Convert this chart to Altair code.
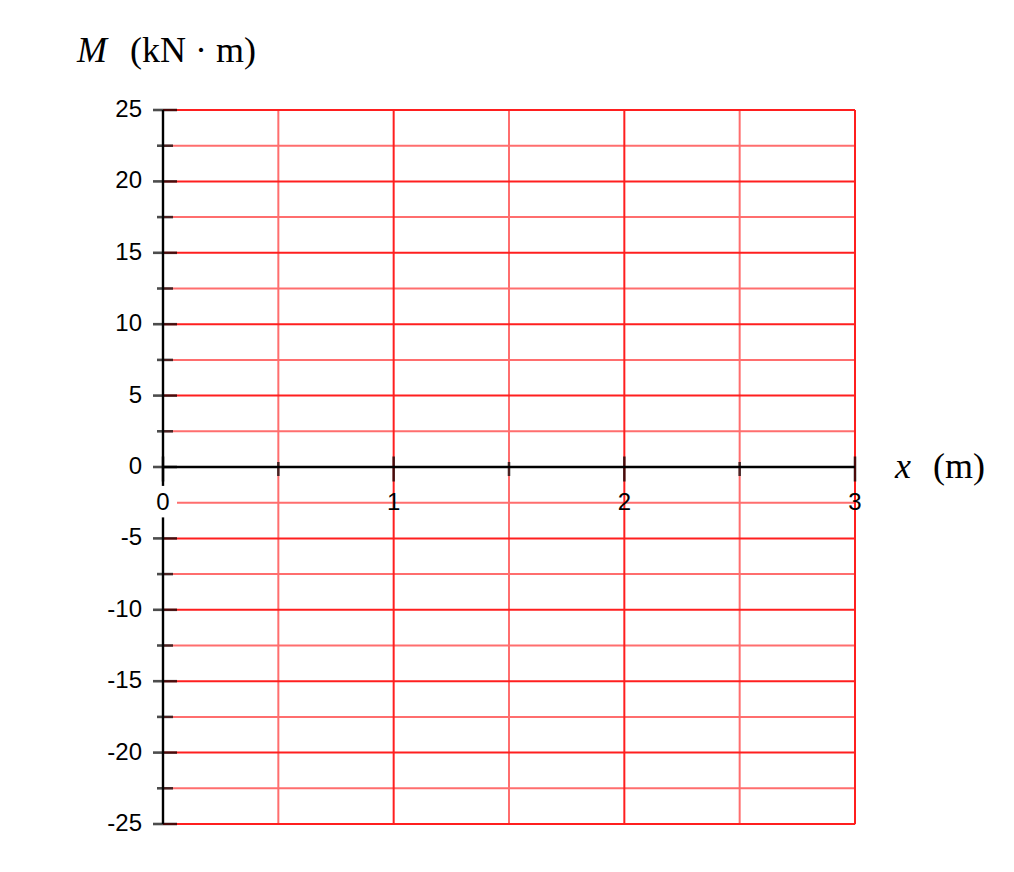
import altair as alt
import pandas as pd

x_major = [1, 2, 3]
x_minor = [0.5, 1.5, 2.5]
y_major = [-25, -20, -15, -10, -5, 0, 5, 10, 15, 20, 25]
y_minor = [-22.5, -17.5, -12.5, -7.5, -2.5, 2.5, 7.5, 12.5, 17.5, 22.5]
x_tick_labels = [0, 1, 2, 3]
y_tick_labels = [-25, -20, -15, -10, -5, 0, 5, 10, 15, 20, 25]

W, H = 692, 714
xs = alt.Scale(domain=[0, 3], nice=False, zero=False)
ys = alt.Scale(domain=[-25, 25], nice=False, zero=False)

MAJOR = "#ff1f1f"
MINOR = "#ff6e6e"

df_xmaj = pd.DataFrame({"x": x_major, "y": 0})
df_xmin = pd.DataFrame({"x": x_minor, "y": 0})
df_xtick = pd.DataFrame({"x": [0] + x_major, "y": 0})
df_ymaj = pd.DataFrame({"y": y_major, "x": 0})
df_ymin = pd.DataFrame({"y": y_minor, "x": 0})
df_xlab = pd.DataFrame({"x": x_tick_labels, "y": 0, "t": [str(v) for v in x_tick_labels]})
df_ylab = pd.DataFrame({"y": y_tick_labels, "x": 0, "t": [str(v) for v in y_tick_labels]})
df_origin = pd.DataFrame({"x": [0], "y": [0]})
df_box = pd.DataFrame({"x": [0], "y": [-2.5]})


def X():
    return alt.X("x:Q", scale=xs, axis=None)


def Y():
    return alt.Y("y:Q", scale=ys, axis=None)


grid_ymin = alt.Chart(df_ymin).mark_rule(color=MINOR, strokeWidth=2).encode(y=Y())
grid_xmin = alt.Chart(df_xmin).mark_rule(color=MINOR, strokeWidth=2).encode(x=X())
grid_ymaj = alt.Chart(df_ymaj).mark_rule(color=MAJOR, strokeWidth=2).encode(y=Y())
grid_xmaj = alt.Chart(df_xmaj).mark_rule(color=MAJOR, strokeWidth=2).encode(x=X())

x_axis = alt.Chart(df_origin).mark_rule(color="black", strokeWidth=2.4).encode(y=Y())
y_axis = alt.Chart(df_origin).mark_rule(color="black", strokeWidth=2.4).encode(x=X())

yt_major = alt.Chart(df_ymaj).mark_tick(
    orient="horizontal", color="black", size=24, thickness=2.6, xOffset=2
).encode(x=X(), y=Y())
yt_minor = alt.Chart(df_ymin).mark_tick(
    orient="horizontal", color="black", size=16, thickness=2.6, xOffset=2
).encode(x=X(), y=Y())
xt_major = alt.Chart(df_xtick).mark_tick(
    orient="vertical", color="black", size=25, thickness=2.6, yOffset=2
).encode(x=X(), y=Y())
xt_minor = alt.Chart(df_xmin).mark_tick(
    orient="vertical", color="black", size=14, thickness=2.6, yOffset=2
).encode(x=X(), y=Y())

white_box = alt.Chart(df_box).mark_point(
    shape="M-1,-1.2H1V1.05H-1Z", filled=True, fill="white", opacity=1,
    strokeWidth=0, size=784
).encode(x=X(), y=Y())

ylab = alt.Chart(df_ylab).mark_text(
    align="right", baseline="middle", dx=-21, fontSize=24,
    font="Liberation Sans", color="black"
).encode(x=X(), y=Y(), text="t:N")
xlab = alt.Chart(df_xlab).mark_text(
    align="center", baseline="middle", dy=36, fontSize=24,
    font="Liberation Sans", color="black"
).encode(x=X(), y=Y(), text="t:N")

serif = "Liberation Serif"


def label(txt, px, py, italic):
    kw = dict(align="left", baseline="alphabetic", fontSize=36, font=serif,
              color="black", text=txt)
    if italic:
        kw["fontStyle"] = "italic"
    return alt.Chart(df_origin).mark_text(**kw).encode(
        x=alt.value(px), y=alt.value(py)
    )


m_it = label("M", -86, -48, True)
m_unit = label("(kN · m)", -33, -48, False)
x_it = label("x", 732, 368, True)
x_unit = label("(m)", 770, 368, False)

chart = alt.layer(
    grid_ymin, grid_xmin, grid_ymaj, grid_xmaj,
    x_axis, y_axis,
    yt_major, yt_minor, xt_major, xt_minor,
    white_box,
    ylab, xlab, m_it, m_unit, x_it, x_unit,
).properties(
    width=W, height=H,
    autosize=alt.AutoSizeParams(type="none"),
    padding={"left": 155, "top": 102, "right": 140, "bottom": 40},
).configure_view(stroke=None).configure(background="white")

chart.save("out.html", embed_options={"renderer": "svg", "actions": False})
